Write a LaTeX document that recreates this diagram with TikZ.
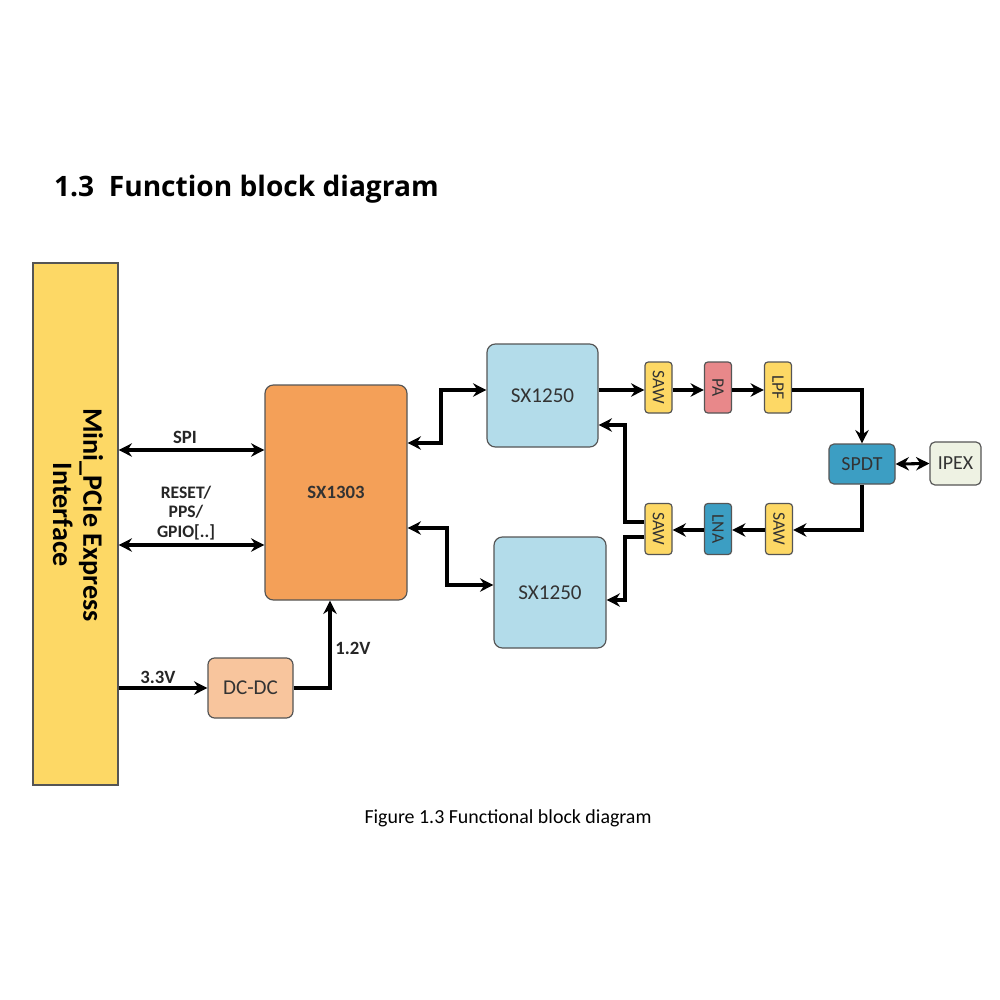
\documentclass[tikz,border=0pt]{standalone}
\usepackage{fontspec}
\setmainfont{Carlito}
\newfontfamily\titlefont{Open Sans}
\usetikzlibrary{arrows.meta}
\definecolor{barY}{HTML}{FDD865}
\definecolor{orng}{HTML}{F4A058}
\definecolor{peach}{HTML}{F8C59D}
\definecolor{lblue}{HTML}{B3DCEA}
\definecolor{saw}{HTML}{FDD865}
\definecolor{pa}{HTML}{E8888A}
\definecolor{spdt}{HTML}{3C9EC3}
\definecolor{ipex}{HTML}{EEF2E3}
\definecolor{edge}{HTML}{555555}
\tikzset{
 box/.style={draw=edge, line width=1pt, rounded corners=2.5mm, align=center, text=black!80},
 small/.style={draw=edge, line width=1pt, rounded corners=1mm, minimum width=8.1mm, minimum height=15.3mm, font=\fontsize{15}{16}\selectfont, text=black!80},
 conn/.style={line width=2.6pt, -{Stealth[length=4mm,width=4mm]}},
 biconn/.style={line width=2.6pt, {Stealth[length=4mm,width=4mm]}-{Stealth[length=4mm,width=4mm]}},
 lbl/.style={font=\bfseries\fontsize{16}{18}\selectfont, text=black!85}
}
\begin{document}
\begin{tikzpicture}[x=0.3mm,y=-0.3mm]
\useasboundingbox[fill=white] (0,0) rectangle (1000,1000);
\node[anchor=base west, font=\titlefont\bfseries\fontsize{24}{28}\selectfont] (title) at (50,196) {1.3\ \ Function block diagram};
\node[draw=edge, line width=1pt, fill=barY, minimum width=25.5mm, minimum height=156.6mm] (bar) at (75.5,524) {};
\node[rotate=-90, align=center, font=\bfseries\fontsize{24}{26}\selectfont] (bartxt) at (78,515) {Mini\_PCIe Express\\Interface};
\node[box, fill=orng, minimum width=42.6mm, minimum height=64.5mm, font=\bfseries\fontsize{16}{18}\selectfont] (sx1303) at (336,492.5) {SX1303};
\node[box, fill=peach, minimum width=25.5mm, minimum height=18mm, rounded corners=2mm, font=\fontsize{18}{20}\selectfont] (dcdc) at (250.5,688) {DC-DC};
\node[box, fill=lblue, minimum width=33.3mm, minimum height=30.9mm, font=\fontsize{18}{20}\selectfont] (sxa) at (542.5,395.5) {SX1250};
\node[box, fill=lblue, minimum width=33.6mm, minimum height=33.3mm, font=\fontsize{18}{20}\selectfont] (sxb) at (550,592.5) {SX1250};
\node[small, fill=saw] (saw1) at (658.5,387.5) {\rotatebox{-90}{SAW}};
\node[small, fill=pa] (pa) at (718,387.5) {\rotatebox{-90}{PA}};
\node[small, fill=saw] (lpf) at (778,387.5) {\rotatebox{-90}{LPF}};
\node[small, fill=saw] (saw2) at (658.5,529) {\rotatebox{-90}{SAW}};
\node[small, fill=spdt] (lna) at (718,529) {\rotatebox{-90}{LNA}};
\node[small, fill=saw] (saw3) at (779,529) {\rotatebox{-90}{SAW}};
\node[box, fill=spdt, rounded corners=1.5mm, minimum width=19.8mm, minimum height=12mm, font=\fontsize{17}{19}\selectfont] (spdt) at (862,464) {SPDT};
\node[box, fill=ipex, rounded corners=1.5mm, minimum width=15.3mm, minimum height=12.9mm, font=\fontsize{17}{19}\selectfont] (ipex) at (955.5,463.5) {IPEX};
% left connectors
\draw[biconn] (bar.east |- 0,450) -- (sx1303.west |- 0,450);
\node[lbl] (spil) at (185,437) {SPI};
\draw[biconn] (bar.east |- 0,545) -- (sx1303.west |- 0,545);
\node[lbl, align=center, font=\bfseries\fontsize{15}{16.5}\selectfont] (rstl) at (186,513) {RESET/\\PPS/\\GPIO[..]};
\draw[conn] (bar.east |- 0,688) -- (dcdc.west);
\node[lbl] (v33) at (158,677) {3.3V};
\draw[conn] (dcdc.east) -- (330,688) -- (sx1303.south -| 330,0);
\node[lbl] (v12) at (353,648) {1.2V};
% SX1303 to SX1250s
\draw[biconn] (sx1303.east |- 0,443) -- (441,443) -- (441,390) -- (sxa.west |- 0,390);
\draw[biconn] (sx1303.east |- 0,528) -- (447,528) -- (447,585) -- (sxb.west |- 0,585);
% TX chain
\draw[conn] (sxa.east |- 0,390) -- (saw1.west |- 0,390);
\draw[conn] (saw1.east |- 0,390) -- (pa.west |- 0,390);
\draw[conn] (pa.east |- 0,390) -- (lpf.west |- 0,390);
\draw[conn] (lpf.east |- 0,390) -| (spdt.north);
\draw[biconn] (spdt.east) -- (ipex.west);
% RX chain
\draw[conn] (spdt.south) |- (saw3.east |- 0,530);
\draw[conn] (saw3.west |- 0,530) -- (lna.east |- 0,530);
\draw[conn] (lna.west |- 0,530) -- (saw2.east |- 0,530);
\draw[conn] (saw2.west |- 0,522) -- (625,522) -- (625,425) -- (sxa.east |- 0,425);
\draw[conn] (saw2.west |- 0,537) -- (625,537) -- (625,600) -- (sxb.east |- 0,600);
\node[font=\fontsize{17}{19}\selectfont] (cap) at (508,818) {Figure 1.3 Functional block diagram};
\end{tikzpicture}
\end{document}
